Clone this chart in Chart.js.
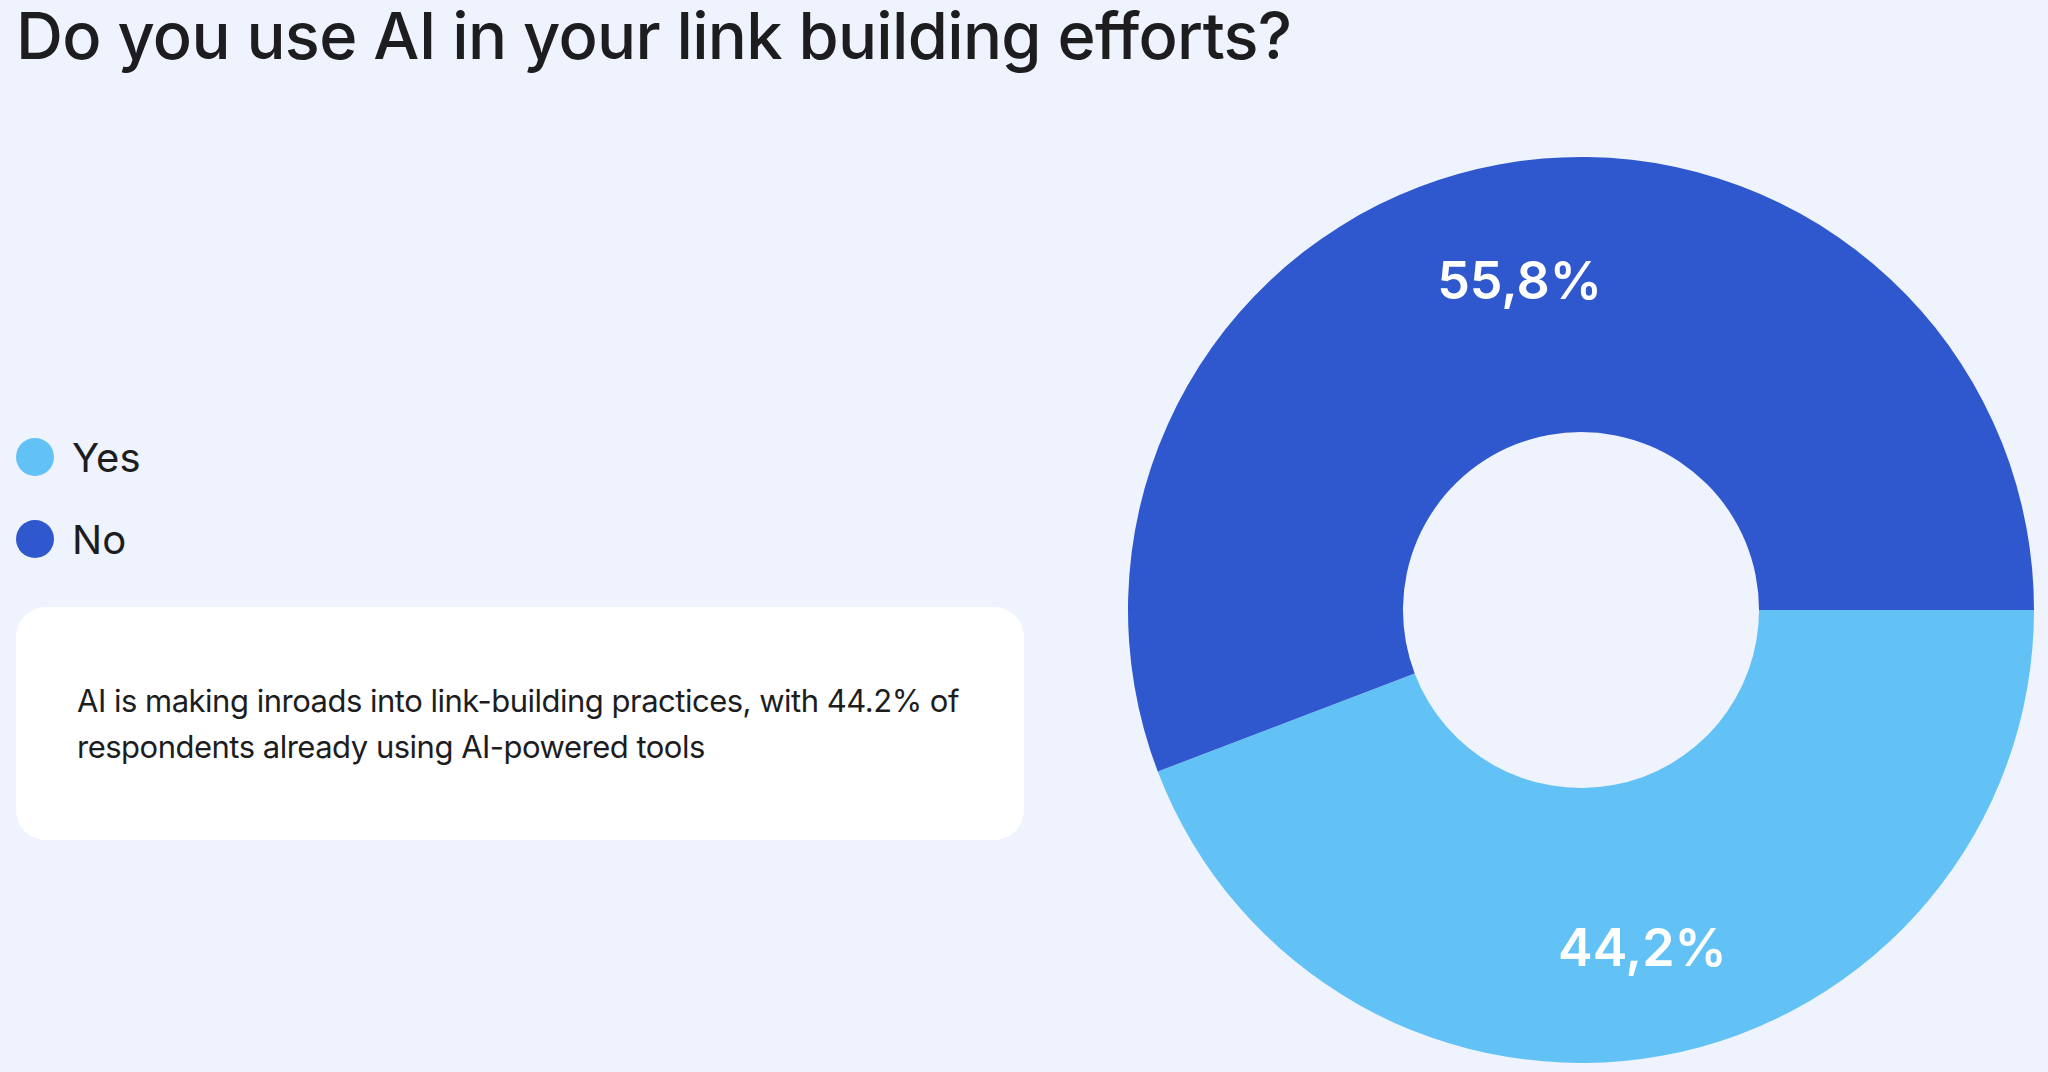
<!DOCTYPE html>
<html>
<head>
<meta charset="utf-8">
<script src="https://cdn.jsdelivr.net/npm/chart.js@4"></script>
<style>
    html, body {
        margin: 0;
        padding: 0;
        width: 2048px;
        height: 1072px;
        background: #eef3fe;
        overflow: hidden;
        font-family: Inter, "Open Sans", sans-serif;
        color: #1d1d1f;
    }
    .title {
        position: absolute;
        left: 16px;
        top: -4px;
        margin: 0;
        font-size: 65px;
        font-weight: 500;
        line-height: 80px;
        letter-spacing: -0.7px;
    }
    .legend {
        position: absolute;
        left: 16px;
        top: 416px;
        list-style: none;
        margin: 0;
        padding: 0;
    }
    .legend li {
        display: flex;
        align-items: center;
        height: 82px;
        font-size: 40px;
    }
    .legend .dot {
        width: 38px;
        height: 38px;
        border-radius: 50%;
        margin-right: 18px;
    }
    .card {
        position: absolute;
        left: 16px;
        top: 607px;
        width: 1008px;
        height: 233px;
        background: #ffffff;
        border-radius: 30px;
        box-sizing: border-box;
        padding: 0 30px 0 61px;
        display: flex;
        align-items: center;
        font-size: 31px;
        line-height: 46px;
        letter-spacing: -0.5px;
    }
    .chart-box {
        position: absolute;
        left: 1121px;
        top: 150px;
        width: 920px;
        height: 920px;
    }
</style>
</head>
<body>
<h1 class="title">Do you use AI in your link building efforts?</h1>
<ul class="legend" id="legend"></ul>
<div class="card">AI is making inroads into link-building practices, with 44.2% of respondents already using AI-powered tools</div>
<div class="chart-box"><canvas id="myChart"></canvas></div>

<script>
// chart data
const labels = ['Yes', 'No'];
const values = [44.2, 55.8];
const colors = ['#62c2f5', '#2f57ce'];

// html legend
const legendList = document.querySelector('#legend');
labels.forEach((label, i) => {
    const li = document.createElement('li');
    li.innerHTML = `<span class="dot" style="background:${colors[i]}"></span>${label}`;
    legendList.appendChild(li);
});

// draw the percentage text on each slice
const sliceLabels = {
    id: 'sliceLabels',
    afterDatasetsDraw(chart) {
        const ctx = chart.ctx;
        const meta = chart.getDatasetMeta(0);
        ctx.save();
        ctx.fillStyle = '#ffffff';
        ctx.font = '600 52px Inter, sans-serif';
        ctx.textAlign = 'center';
        ctx.textBaseline = 'middle';
        meta.data.forEach((arc, i) => {
            const p = arc.getProps(['x', 'y', 'startAngle', 'endAngle', 'innerRadius', 'outerRadius'], true);
            const mid = (p.startAngle + p.endAngle) / 2;
            const r = p.innerRadius + 0.585 * (p.outerRadius - p.innerRadius);
            const text = values[i].toFixed(1).replace('.', ',') + '%';
            ctx.fillText(text, p.x + Math.cos(mid) * r, p.y + Math.sin(mid) * r + 7);
        });
        ctx.restore();
    }
};

const ctx = document.getElementById('myChart').getContext('2d');

const chart = new Chart(ctx, {
    type: 'doughnut',
    data: {
        labels: labels,
        datasets: [{
            data: values,
            backgroundColor: colors,
            borderWidth: 0
        }]
    },
    options: {
        responsive: true,
        maintainAspectRatio: false,
        animation: false,
        rotation: 90,
        cutout: '39.3%',
        layout: { padding: 7 },
        plugins: {
            legend: { display: false },
            tooltip: { enabled: false }
        }
    },
    plugins: [sliceLabels]
});
</script>
</body>
</html>
